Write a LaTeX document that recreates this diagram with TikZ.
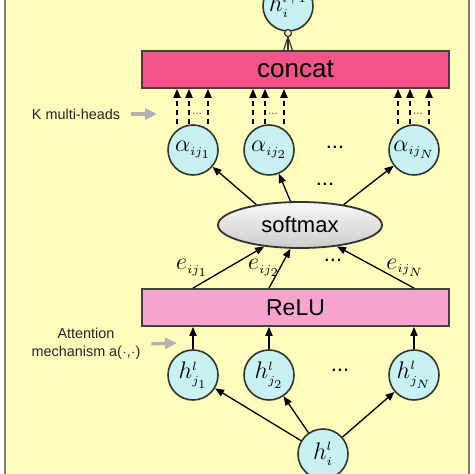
\documentclass[tikz,border=0pt]{standalone}
\usepackage{amsmath, amssymb}
\usepackage{fontspec}
\setmainfont{Liberation Sans}
\usetikzlibrary{shapes.geometric, arrows.meta}

\definecolor{bgyellow}{RGB}{255,252,188}
\definecolor{cellcyan}{RGB}{200,242,242}
\definecolor{catpink}{RGB}{242,84,136}
\definecolor{relupink}{RGB}{246,164,206}

\begin{document}
\begin{tikzpicture}[x=0.5pt, y=-0.5pt,
    unit/.style={circle, draw=black!80, line width=0.8pt, fill=cellcyan,
        minimum size=25pt, inner sep=0pt, font=\fontsize{13}{15}\selectfont},
    layer/.style={rectangle, draw=black!75, line width=0.9pt,
        minimum width=153.5pt, minimum height=18.5pt, inner sep=0pt,
        font=\fontsize{11.5}{13}\selectfont},
    link/.style={-{Triangle[length=4.5pt, width=3.6pt]}, line width=0.65pt},
    head/.style={-{Triangle[length=4.5pt, width=3.6pt]}, line width=0.8pt,
        dash pattern=on 2.5pt off 2pt},
    hint/.style={-{Triangle[length=6pt, width=5.5pt]}, line width=1.6pt,
        color=gray!60, shorten <=2pt},
    note/.style={font=\fontsize{7.2}{8.8}\selectfont, align=center, text=black!85},
    dots/.style={font=\fontsize{11}{12}\selectfont}]
    \useasboundingbox (0,0) rectangle (474,474);
    \clip (0,0) rectangle (474,474);
    \fill[white] (0,0) rectangle (474,474);
    \fill[bgyellow] (5,-10) rectangle (469,490);
    \draw[gray, line width=0.8pt]
        (5,-10) -- (5,490) (469,-10) -- (469,490);

    \node[unit] (hout) at (288,6) {$h_{\scriptscriptstyle i}^{\scriptscriptstyle l+1}$};
    \node[layer, fill=catpink, font=\fontsize{13}{15}\selectfont]
        (cat) at (295.5,69.5) {concat};
    \node[circle, draw=black!80, fill=bgyellow, line width=0.6pt,
        minimum size=3.5pt, inner sep=0pt] (tip) at (288,33) {};
    \foreach \o in {-2.2pt, 0pt, 2.2pt}{
        \draw[black!80, line width=0.6pt]
            ([xshift=\o]cat.north -| tip) -- (tip.south);
    }

    \foreach \x/\n in {193/1, 269/2}{
        \node[unit] (a\n) at (\x,150) {$\alpha_{\scriptscriptstyle ij_{\n}}$};
        \node[unit] (h\n) at (\x,375) {$h^{\scriptscriptstyle l}_{\scriptscriptstyle j_{\n}}$};
    }
    \node[unit] (aN) at (414,150) {$\alpha_{\scriptscriptstyle ij_N}$};
    \node[unit] (hN) at (414,375) {$h^{\scriptscriptstyle l}_{\scriptscriptstyle j_N}$};
    \node[dots] (adots) at (335,147) {...};
    \node[dots] (hdots) at (340,370) {...};

    \foreach \n in {1, 2, N}{
        \foreach \o in {-8pt, -2pt, 7.5pt}{
            \draw[head]
                ([xshift=\o]a\n.north) -- ([xshift=\o]a\n.north |- cat.south);
        }
        \node[font=\fontsize{6}{7}\selectfont, text=black!70]
            at ([xshift=2pt, yshift=5pt]a\n.north) {...};
    }

    \node[note] (ktxt) at (76,114) {K multi-heads};
    \coordinate (kend) at (157,114);
    \draw[hint] (ktxt.east) -- (kend);

    \node[ellipse, draw=black!80, line width=0.9pt, top color=gray!6,
        bottom color=gray!40, minimum width=82pt, minimum height=23pt,
        inner sep=0pt, font=\fontsize{11}{13}\selectfont]
        (sm) at (300,225) {softmax};
    \draw[link] (sm.155) -- (a1);
    \draw[link] (sm.112) -- (a2);
    \draw[link] (sm.25) -- (aN);
    \node[dots] (sdots) at (325,184) {...};

    \node[layer, fill=relupink] (relu) at (295.5,307.5) {ReLU};
    \draw[link] (relu.north -| a1) -- (sm.211);
    \draw[link] (relu.north -| a2) -- (sm.248);
    \draw[link] (relu.north -| aN) -- (sm.330);
    \node[font=\fontsize{13}{15}\selectfont] (e1) at (192,268) {$e_{\scriptscriptstyle ij_1}$};
    \node[font=\fontsize{13}{15}\selectfont] (e2) at (264,268) {$e_{\scriptscriptstyle ij_2}$};
    \node[font=\fontsize{13}{15}\selectfont] (eN) at (405,268) {$e_{\scriptscriptstyle ij_N}$};
    \node[dots] (edots) at (333,260) {...};

    \node[note] (atxt) at (86,344) {Attention\\mechanism a($\cdot$,$\cdot$)};
    \coordinate (aend) at (177,343);
    \draw[hint] (atxt.east) -- (aend);

    \node[unit] (hi) at (323,454) {$h_{\scriptscriptstyle i}^{\scriptscriptstyle l}$};
    \foreach \n in {1, 2, N}{
        \draw[link] (h\n) -- (relu.south -| h\n);
        \draw[link] (hi) -- (h\n);
    }
\end{tikzpicture}
\end{document}
